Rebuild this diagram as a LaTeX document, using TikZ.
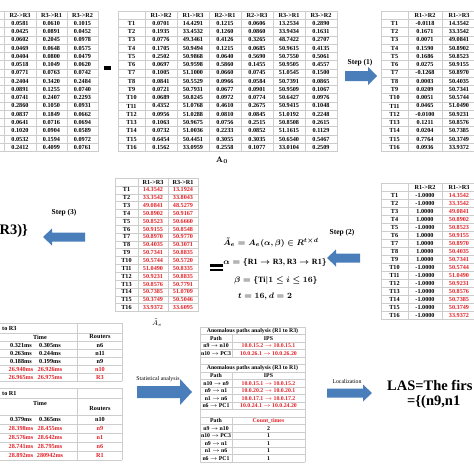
\documentclass[tikz,border=0pt]{standalone}
\usepackage{fontspec}
\usepackage{amsmath}
\setmainfont{Liberation Serif}

\definecolor{stepblue}{RGB}{74,126,187}
\definecolor{hotred}{RGB}{228,30,36}
\definecolor{gridgray}{RGB}{205,205,205}

\tikzset{
  cell/.style={inner sep=0pt, font=\fontsize{6.2}{7}\selectfont\bfseries},
  small cell/.style={inner sep=0pt, font=\fontsize{5.8}{6.5}\selectfont\bfseries},
  hot/.style={text=hotred},
  grid line/.style={draw=gridgray, line width=0.4pt},
  step label/.style={inner sep=0pt, font=\fontsize{7.5}{8}\selectfont\bfseries},
  note label/.style={inner sep=0pt, font=\fontsize{5.8}{6}\selectfont},
  eq line/.style={inner sep=0pt, font=\fontsize{8}{9}\selectfont\bfseries\boldmath},
  big line/.style={inner sep=0pt, font=\fontsize{14.5}{15}\selectfont\bfseries},
}

% block arrow: x from, x to, y, half shaft, half head, head length (signed)
\newcommand{\blockarrow}[6]{%
  \fill[stepblue] (#1,{#3-#4}) -- ({#2-(#6)},{#3-#4}) -- ({#2-(#6)},{#3-#5}) -- (#2,#3)
    -- ({#2-(#6)},{#3+#5}) -- ({#2-(#6)},{#3+#4}) -- (#1,{#3+#4}) -- cycle;}

\begin{document}
\begin{tikzpicture}[x=1pt,y=-1pt]
\useasboundingbox (0,0) rectangle (474,474);
\clip (0,0) rectangle (474,474);

% ---------- top row ----------
% subtracted table (cut at the left border)
\foreach \k in {0,...,17} \draw[grid line] (0,{10.9+8.27*\k}) -- (98,{10.9+8.27*\k});
\foreach \x in {4,36,67,98} \draw[grid line] (\x,10.9) -- (\x,151.5);
\node[cell] (d-0-1) at (20,15) {R2->R3};
\node[cell] (d-0-2) at (51.5,15) {R3->R1};
\node[cell] (d-0-3) at (82.5,15) {R3->R2};
\foreach \a/\b/\c [count=\i] in {0.0581/0.0610/0.1015, 0.0425/0.0891/0.0452,
    0.0602/0.2045/0.0978, 0.0469/0.0648/0.0575, 0.0404/0.0800/0.0479,
    0.0518/0.1049/0.0620, 0.0771/0.0763/0.0742, 0.2404/0.3420/0.2484,
    0.0891/0.1255/0.0740, 0.0741/0.2407/0.2293, 0.2860/0.1050/0.0931,
    0.0837/0.1849/0.0662, 0.0641/0.0716/0.0694, 0.1020/0.0904/0.0589,
    0.0532/0.1594/0.0972, 0.2412/0.4099/0.0761}{
  \node[cell] (d-\i-1) at (20,{15+8.27*\i}) {\a};
  \node[cell] (d-\i-2) at (51.5,{15+8.27*\i}) {\b};
  \node[cell] (d-\i-3) at (82.5,{15+8.27*\i}) {\c};
}
\fill (104,66) rectangle (111,69.5);

% A0
\foreach \k in {0,...,17} \draw[grid line] (118,{10.9+8.27*\k}) -- (337,{10.9+8.27*\k});
\foreach \x in {118,145,177,209,241,273,305,337} \draw[grid line] (\x,10.9) -- (\x,151.5);
\foreach \h/\x [count=\j] in {R1->R2/161,R1->R3/193,R2->R1/225,R2->R3/257,R3->R1/289,R3->R2/321}
  \node[cell] (a-0-\j) at (\x,15) {\h};
\foreach \tn/\a/\b/\c/\d/\e/\f [count=\i] in {
    T1/0.0701/14.4291/0.1215/0.0606/13.2534/0.2890,
    T2/0.1935/33.4532/0.1260/0.0860/33.9434/0.1631,
    T3/0.0776/49.3461/0.4126/0.3265/48.7422/0.2707,
    T4/0.1705/50.9494/0.1215/0.0685/50.9615/0.4135,
    T5/0.2502/50.9868/0.0640/0.5690/50.7550/0.5061,
    T6/0.0697/50.9598/0.5860/0.1455/50.9505/0.4557,
    T7/0.1005/51.1000/0.0660/0.0745/51.0545/0.1500,
    T8/0.0841/50.5529/0.0966/0.0584/50.7391/0.0865,
    T9/0.0721/50.7931/0.0677/0.0901/50.9509/0.1067,
    T10/0.0689/50.8245/0.0972/0.0774/50.6427/0.0976,
    T11/0.4352/51.0768/0.4610/0.2675/50.9415/0.1048,
    T12/0.0956/51.0288/0.0810/0.0845/51.0192/0.2248,
    T13/0.1063/50.9675/0.0756/0.2515/50.8508/0.2615,
    T14/0.0732/51.0036/0.2233/0.0852/51.1615/0.1129,
    T15/0.6454/50.4451/0.3055/0.3035/50.6540/0.5467,
    T16/0.1562/33.0959/0.2558/0.1077/33.0104/0.2509}{
  \node[cell] (a-\i-0) at (131.5,{15+8.27*\i}) {\tn};
  \node[cell] (a-\i-1) at (161,{15+8.27*\i}) {\a};
  \node[cell] (a-\i-2) at (193,{15+8.27*\i}) {\b};
  \node[cell] (a-\i-3) at (225,{15+8.27*\i}) {\c};
  \node[cell] (a-\i-4) at (257,{15+8.27*\i}) {\d};
  \node[cell] (a-\i-5) at (289,{15+8.27*\i}) {\e};
  \node[cell] (a-\i-6) at (321,{15+8.27*\i}) {\f};
}
\node[inner sep=0pt, font=\fontsize{8}{8}\selectfont\bfseries\boldmath] (a-name) at (222,160) {$\mathbf{A}_0$};

% step 1
\node[step label] (step1) at (360,63) {Step (1)};
\blockarrow{345}{377}{76}{5}{9}{9}

% difference table
\foreach \k in {0,...,17} \draw[grid line] (381,{10.9+8.27*\k}) -- (476,{10.9+8.27*\k});
\foreach \x in {381,408,442} \draw[grid line] (\x,10.9) -- (\x,151.5);
\node[cell] (b-0-1) at (425,15) {R1->R2};
\node[cell] (b-0-2) at (459,15) {R1->R3};
\foreach \tn/\a/\b [count=\i] in {T1/-0.0118/14.3542, T2/0.1671/33.3542,
    T3/0.0071/49.0841, T4/0.1590/50.8902, T5/0.1686/50.8523, T6/0.0275/50.9155,
    T7/-0.1268/50.8970, T8/0.0003/50.4035, T9/0.0209/50.7341, T10/0.0051/50.5744,
    T11/0.0465/51.0490, T12/-0.0100/50.9231, T13/0.1211/50.8576,
    T14/0.0204/50.7385, T15/0.7764/50.3749, T16/0.0936/33.9372}{
  \node[cell] (b-\i-0) at (394.5,{15+8.27*\i}) {\tn};
  \node[cell] (b-\i-1) at (425,{15+8.27*\i}) {\a};
  \node[cell] (b-\i-2) at (459,{15+8.27*\i}) {\b};
}

% ---------- middle row ----------
\node[big line, anchor=east] (las-end) at (28,231) {R3)\}};
\node[step label] (step3) at (64,213) {Step (3)};
\blockarrow{85}{43}{237}{4.5}{8.5}{-9}

% selected table
\foreach \k in {0,...,17} \draw[grid line] (115,{178+7.85*\k}) -- (198,{178+7.85*\k});
\foreach \x in {115,138,168,198} \draw[grid line] (\x,178) -- (\x,311.5);
\node[cell] (e-0-1) at (153,182) {R1->R3};
\node[cell] (e-0-2) at (183,182) {R3->R1};
\foreach \tn/\a/\b [count=\i] in {T1/14.3542/13.1924, T2/33.3542/33.8043,
    T3/49.0841/48.5279, T4/50.8902/50.9167, T5/50.8523/50.6660, T6/50.9155/50.8548,
    T7/50.8970/50.9770, T8/50.4035/50.3071, T9/50.7341/50.8835, T10/50.5744/50.5720,
    T11/51.0490/50.8335, T12/50.9231/50.8835, T13/50.8576/50.7791,
    T14/50.7385/51.0709, T15/50.3749/50.5046, T16/33.9372/33.6095}{
  \node[cell] (e-\i-0) at (126.5,{182+7.85*\i}) {\tn};
  \node[cell, hot] (e-\i-1) at (153,{182+7.85*\i}) {\a};
  \node[cell, hot] (e-\i-2) at (183,{182+7.85*\i}) {\b};
}
\node[inner sep=0pt, font=\fontsize{7.5}{8}\selectfont] (e-name) at (157,322.5) {$\tilde{A}_e$};

% equals sign and definitions
\fill (210,264) rectangle (223,266.5);
\fill (210,268.5) rectangle (223,271);
\node[eq line] (eq1) at (271,243) {$\tilde{A}_e = A_e(\alpha,\beta) \in R^{t\times d}$};
\node[eq line] (eq2) at (275,262) {$\alpha = \{\text{R1} \rightarrow \text{R3}, \text{R3} \rightarrow \text{R1}\}$};
\node[eq line] (eq3) at (276,280) {$\beta = \{\text{Ti}|1 \leq i \leq 16\}$};
\node[eq line] (eq4) at (265,296) {$t = 16, d = 2$};

% step 2
\node[step label] (step2) at (342,233) {Step (2)};
\blockarrow{360}{327}{258}{4.5}{8.5}{-9}

% sign table
\foreach \k in {0,...,17} \draw[grid line] (381,{183+8*\k}) -- (476,{183+8*\k});
\foreach \x in {381,408,442} \draw[grid line] (\x,183) -- (\x,319);
\node[cell] (s-0-1) at (425,187) {R1->R2};
\node[cell] (s-0-2) at (459,187) {R1->R3};
\foreach \tn/\a/\b [count=\i] in {T1/-1.0000/14.3542, T2/-1.0000/33.3542,
    T3/1.0000/49.0841, T4/1.0000/50.8902, T5/-1.0000/50.8523, T6/1.0000/50.9155,
    T7/1.0000/50.8970, T8/1.0000/50.4035, T9/1.0000/50.7341, T10/-1.0000/50.5744,
    T11/-1.0000/51.0490, T12/-1.0000/50.9231, T13/-1.0000/50.8576,
    T14/-1.0000/50.7385, T15/-1.0000/50.3749, T16/-1.0000/33.9372}{
  \node[cell] (s-\i-0) at (394.5,{187+8*\i}) {\tn};
  \node[cell] (s-\i-1) at (425,{187+8*\i}) {\a};
  \node[cell, hot] (s-\i-2) at (459,{187+8*\i}) {\b};
}

% ---------- bottom row ----------
% traceroute times
\foreach \y in {323,333,341,349,357,365,373,381} \draw[grid line] (0,\y) -- (122,\y);
\foreach \y in {388,398,415,424,433,442,451,460} \draw[grid line] (0,\y) -- (122,\y);
\foreach \x in {77,122} \draw[grid line] (\x,323) -- (\x,381) (\x,388) -- (\x,460);
\node[cell, anchor=west] (r3-to) at (2,328) {to R3};
\node[cell] (r3-time) at (40,337) {Time};
\node[cell] (r3-rt) at (100,337) {Routers};
\foreach \a/\b/\r/\c [count=\i] in {0.321ms/0.305ms/n6/black, 0.263ms/0.244ms/n11/black,
    0.188ms/0.199ms/n9/black, 26.940ms/26.926ms/n10/hotred, 26.965ms/26.975ms/R3/hotred}{
  \node[cell, text=\c] (r3-\i-1) at (21,{337+8*\i}) {\a};
  \node[cell, text=\c] (r3-\i-2) at (50,{337+8*\i}) {\b};
  \node[cell, text=\c] (r3-\i-3) at (100,{337+8*\i}) {\r};
}
\node[cell, anchor=west] (r1-to) at (2,393) {to R1};
\node[cell] (r1-time) at (40,403) {Time};
\node[cell] (r1-rt) at (100,409) {Routers};
\foreach \a/\b/\r/\c [count=\i] in {0.379ms/0.365ms/n10/black, 28.398ms/28.455ms/n9/hotred,
    28.576ms/28.642ms/n1/hotred, 28.741ms/28.795ms/n6/hotred, 28.892ms/280942ms/R1/hotred}{
  \node[cell, text=\c] (r1-\i-1) at (21,{410.5+9*\i}) {\a};
  \node[cell, text=\c] (r1-\i-2) at (50,{410.5+9*\i}) {\b};
  \node[cell, text=\c] (r1-\i-3) at (100,{410.5+9*\i}) {\r};
}

% statistical analysis
\node[note label] (stat) at (158,379) {Statistical analysis};
\blockarrow{137}{192}{392}{6}{13}{12}

% anomalous paths
\foreach \k in {0,...,18} \draw[grid line] (200,{327+7.5*\k}) -- (305,{327+7.5*\k});
\draw[grid line] (200,327) -- (200,462) (305,327) -- (305,462);
\foreach \a/\b in {1/3,6/10,12/17} \draw[grid line] (232,{327+7.5*\a}) -- (232,{327+7.5*(\b+1)});
\node[small cell] (ap-h1) at (252.5,330.75) {Anomalous paths analysis (R1 to R3)};
\node[small cell] (ap-h2) at (252.5,368.25) {Anomalous paths analysis (R3 to R1)};
\foreach \k/\b in {1/IPS,6/IPS}{
  \node[small cell] (ap-\k-p) at (216,{330.75+7.5*\k}) {Path};
  \node[small cell] (ap-\k-v) at (268.5,{330.75+7.5*\k}) {\b};
}
\node[small cell] (ap-12-p) at (216,420.75) {Path};
\node[small cell, hot] (ap-12-v) at (268.5,420.75) {Count\_times};
\foreach \k/\p/\v in {2/{n9 $\rightarrow$ n10}/{10.0.15.2 $\rightarrow$ 10.0.15.1},
    3/{n10 $\rightarrow$ PC3}/{10.0.26.1 $\rightarrow$ 10.0.26.20},
    7/{n10 $\rightarrow$ n9}/{10.0.15.1 $\rightarrow$ 10.0.15.2},
    8/{n9 $\rightarrow$ n1}/{10.0.20.2 $\rightarrow$ 10.0.20.1},
    9/{n1 $\rightarrow$ n6}/{10.0.17.1 $\rightarrow$ 10.0.17.2},
    10/{n6 $\rightarrow$ PC1}/{10.0.24.1 $\rightarrow$ 10.0.24.20}}{
  \node[small cell] (ap-\k-p) at (216,{330.75+7.5*\k}) {\p};
  \node[small cell, hot] (ap-\k-v) at (268.5,{330.75+7.5*\k}) {\v};
}
\foreach \k/\p/\v in {13/{n9 $\rightarrow$ n10}/2, 14/{n10 $\rightarrow$ PC3}/1,
    15/{n9 $\rightarrow$ n1}/1, 16/{n1 $\rightarrow$ n6}/1, 17/{n6 $\rightarrow$ PC1}/1}{
  \node[small cell] (ap-\k-p) at (216,{330.75+7.5*\k}) {\p};
  \node[small cell] (ap-\k-v) at (268.5,{330.75+7.5*\k}) {\v};
}

% localization
\node[note label] (loc) at (347,382) {Localization};
\blockarrow{327}{372}{393}{4.5}{8.5}{9}
\node[big line, anchor=west] (las1) at (387,385) {LAS=The firs};
\node[big line, anchor=west] (las2) at (407,402) {=\{(n9,n1};
\end{tikzpicture}
\end{document}
